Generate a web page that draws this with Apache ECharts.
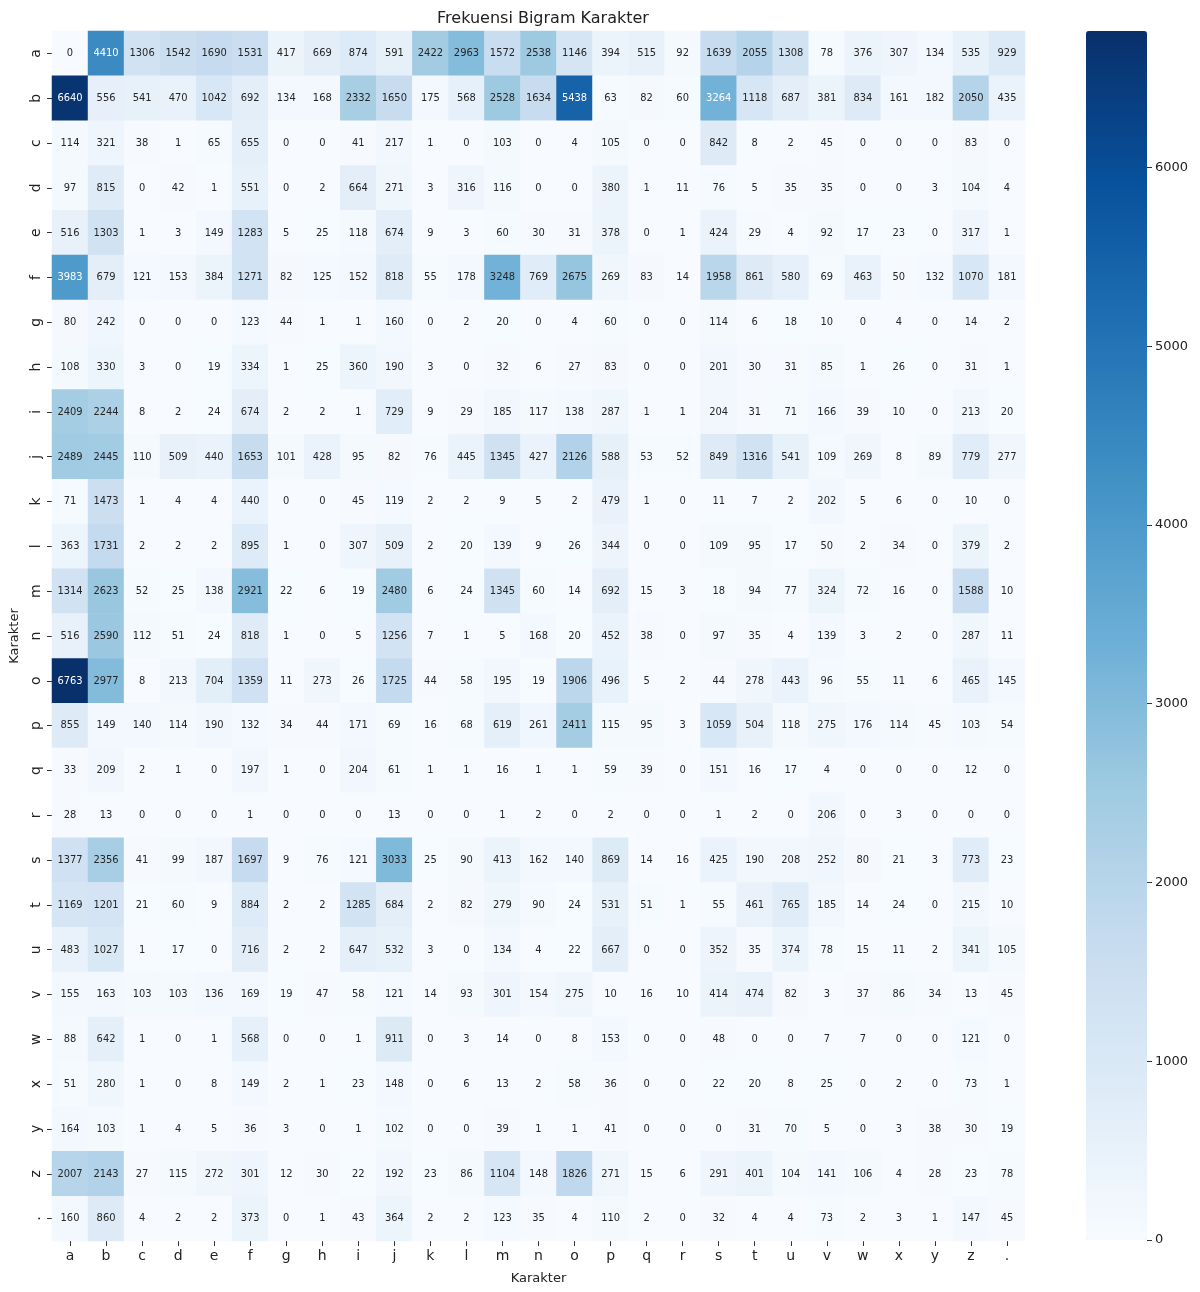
<!DOCTYPE html>
<html>
<head>
<meta charset="utf-8">
<script src="https://cdn.jsdelivr.net/npm/echarts@6/dist/echarts.min.js"></script>
<style>
  html, body { margin: 0; padding: 0; background: #fff; }
  #chart { width: 1200px; height: 1292px; }
</style>
</head>
<body>
<div id="chart"></div>
<script>
// label baris dan kolom
const rowLabels = ['a','b','c','d','e','f','g','h','i','j','k','l','m','n','o','p','q','r','s','t','u','v','w','x','y','z','.']
const colLabels = ['a','b','c','d','e','f','g','h','i','j','k','l','m','n','o','p','q','r','s','t','u','v','w','x','y','z','.']

// frekuensi tiap baris (urutan kolom sama dengan colLabels)
const rowA = [0,4410,1306,1542,1690,1531,417,669,874,591,2422,2963,1572,2538,1146,394,515,92,1639,2055,1308,78,376,307,134,535,929]
const rowB = [6640,556,541,470,1042,692,134,168,2332,1650,175,568,2528,1634,5438,63,82,60,3264,1118,687,381,834,161,182,2050,435]
const rowC = [114,321,38,1,65,655,0,0,41,217,1,0,103,0,4,105,0,0,842,8,2,45,0,0,0,83,0]
const rowD = [97,815,0,42,1,551,0,2,664,271,3,316,116,0,0,380,1,11,76,5,35,35,0,0,3,104,4]
const rowE = [516,1303,1,3,149,1283,5,25,118,674,9,3,60,30,31,378,0,1,424,29,4,92,17,23,0,317,1]
const rowF = [3983,679,121,153,384,1271,82,125,152,818,55,178,3248,769,2675,269,83,14,1958,861,580,69,463,50,132,1070,181]
const rowG = [80,242,0,0,0,123,44,1,1,160,0,2,20,0,4,60,0,0,114,6,18,10,0,4,0,14,2]
const rowH = [108,330,3,0,19,334,1,25,360,190,3,0,32,6,27,83,0,0,201,30,31,85,1,26,0,31,1]
const rowI = [2409,2244,8,2,24,674,2,2,1,729,9,29,185,117,138,287,1,1,204,31,71,166,39,10,0,213,20]
const rowJ = [2489,2445,110,509,440,1653,101,428,95,82,76,445,1345,427,2126,588,53,52,849,1316,541,109,269,8,89,779,277]
const rowK = [71,1473,1,4,4,440,0,0,45,119,2,2,9,5,2,479,1,0,11,7,2,202,5,6,0,10,0]
const rowL = [363,1731,2,2,2,895,1,0,307,509,2,20,139,9,26,344,0,0,109,95,17,50,2,34,0,379,2]
const rowM = [1314,2623,52,25,138,2921,22,6,19,2480,6,24,1345,60,14,692,15,3,18,94,77,324,72,16,0,1588,10]
const rowN = [516,2590,112,51,24,818,1,0,5,1256,7,1,5,168,20,452,38,0,97,35,4,139,3,2,0,287,11]
const rowO = [6763,2977,8,213,704,1359,11,273,26,1725,44,58,195,19,1906,496,5,2,44,278,443,96,55,11,6,465,145]
const rowP = [855,149,140,114,190,132,34,44,171,69,16,68,619,261,2411,115,95,3,1059,504,118,275,176,114,45,103,54]
const rowQ = [33,209,2,1,0,197,1,0,204,61,1,1,16,1,1,59,39,0,151,16,17,4,0,0,0,12,0]
const rowR = [28,13,0,0,0,1,0,0,0,13,0,0,1,2,0,2,0,0,1,2,0,206,0,3,0,0,0]
const rowS = [1377,2356,41,99,187,1697,9,76,121,3033,25,90,413,162,140,869,14,16,425,190,208,252,80,21,3,773,23]
const rowT = [1169,1201,21,60,9,884,2,2,1285,684,2,82,279,90,24,531,51,1,55,461,765,185,14,24,0,215,10]
const rowU = [483,1027,1,17,0,716,2,2,647,532,3,0,134,4,22,667,0,0,352,35,374,78,15,11,2,341,105]
const rowV = [155,163,103,103,136,169,19,47,58,121,14,93,301,154,275,10,16,10,414,474,82,3,37,86,34,13,45]
const rowW = [88,642,1,0,1,568,0,0,1,911,0,3,14,0,8,153,0,0,48,0,0,7,7,0,0,121,0]
const rowX = [51,280,1,0,8,149,2,1,23,148,0,6,13,2,58,36,0,0,22,20,8,25,0,2,0,73,1]
const rowY = [164,103,1,4,5,36,3,0,1,102,0,0,39,1,1,41,0,0,0,31,70,5,0,3,38,30,19]
const rowZ = [2007,2143,27,115,272,301,12,30,22,192,23,86,1104,148,1826,271,15,6,291,401,104,141,106,4,28,23,78]
const rowDot = [160,860,4,2,2,373,0,1,43,364,2,2,123,35,4,110,2,0,32,4,4,73,2,3,1,147,45]

const rows = [rowA,rowB,rowC,rowD,rowE,rowF,rowG,rowH,rowI,rowJ,rowK,rowL,rowM,rowN,rowO,rowP,rowQ,rowR,rowS,rowT,rowU,rowV,rowW,rowX,rowY,rowZ,rowDot]

// tick colorbar
const barTicks = [0, 1000, 2000, 3000, 4000, 5000, 6000]
const maxVal = 6763

const blues = ['#f7fbff','#deebf7','#c6dbef','#9ecae1','#6baed6','#4292c6','#2171b5','#08519c','#08306b']
const font = 'DejaVu Sans'

// susun data heatmap
const data = []
rows.forEach((row, r) => {
  row.forEach((v, c) => {
    data.push({
      value: [c, r, v],
      label: { color: v > 3255 ? '#ffffff' : '#262626' }
    })
  })
})

const myChart = echarts.init(document.querySelector('#chart'))

const option = {
  animation: false,
  textStyle: { fontFamily: font },
  title: {
    text: 'Frekuensi Bigram Karakter',
    left: 538,
    top: 6,
    textAlign: 'center',
    textStyle: { fontSize: 16, fontWeight: 'normal', color: '#222', fontFamily: font }
  },
  grid: [
    { left: 52, top: 31, width: 973, height: 1210 },
    { left: 1086, top: 31, width: 61, height: 1209 }
  ],
  xAxis: [
    {
      type: 'category',
      data: colLabels,
      gridIndex: 0,
      axisLine: { show: false },
      axisTick: { show: true, alignWithLabel: true, length: 5, lineStyle: { color: '#333' } },
      axisLabel: { fontSize: 14, color: '#222', margin: 8, fontFamily: font },
      splitArea: { show: false },
      name: 'Karakter',
      nameLocation: 'middle',
      nameGap: 31,
      nameTextStyle: { fontSize: 13, color: '#222', fontFamily: font }
    },
    { type: 'category', gridIndex: 1, show: false, data: [''] }
  ],
  yAxis: [
    {
      type: 'category',
      data: rowLabels,
      inverse: true,
      gridIndex: 0,
      axisLine: { show: false },
      axisTick: { show: true, alignWithLabel: true, length: 5, lineStyle: { color: '#333' } },
      axisLabel: { fontSize: 14, color: '#222', rotate: 90, margin: 9, fontFamily: font },
      splitArea: { show: false },
      name: 'Karakter',
      nameLocation: 'middle',
      nameGap: 28,
      nameRotate: 90,
      nameTextStyle: { fontSize: 13, color: '#222', fontFamily: font }
    },
    {
      type: 'value',
      gridIndex: 1,
      position: 'right',
      min: 0,
      max: maxVal,
      axisLine: { show: false },
      splitLine: { show: false },
      axisTick: { show: true, length: 5, customValues: barTicks, lineStyle: { color: '#333' } },
      axisLabel: {
        fontSize: 13, color: '#222', margin: 8, fontFamily: font,
        customValues: barTicks,
        formatter: v => String(v)
      }
    }
  ],
  visualMap: {
    type: 'continuous',
    min: 0,
    max: maxVal,
    seriesIndex: 0,
    left: 1086,
    top: 31,
    itemWidth: 61,
    itemHeight: 1209,
    padding: 0,
    calculable: false,
    hoverLink: false,
    inRange: { color: blues }
  },
  series: [
    {
      type: 'heatmap',
      xAxisIndex: 0,
      yAxisIndex: 0,
      data: data,
      itemStyle: { borderWidth: 0 },
      label: {
        show: true,
        fontSize: 11,
        fontFamily: 'DejaVu Sans Condensed, DejaVu Sans',
        formatter: p => String(p.value[2])
      },
      emphasis: { disabled: true }
    },
    {
      type: 'scatter',
      xAxisIndex: 1,
      yAxisIndex: 1,
      data: [],
      silent: true
    }
  ]
}

myChart.setOption(option)
</script>
</body>
</html>
